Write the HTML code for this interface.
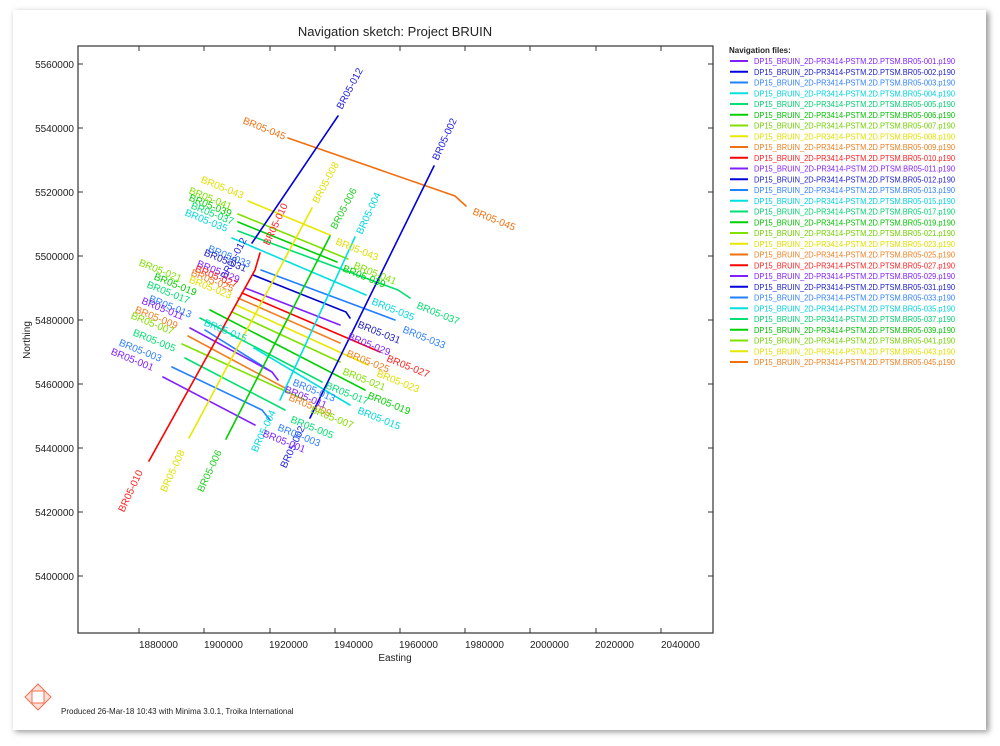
<!DOCTYPE html>
<html><head><meta charset="utf-8"><style>
body{margin:0;background:#fff;width:1000px;height:746px;overflow:hidden}
svg{display:block}
text{font-family:"Liberation Sans",sans-serif}
</style></head><body>
<svg width="1000" height="746" viewBox="0 0 1000 746" xmlns="http://www.w3.org/2000/svg">
<defs><filter id="sh" x="-5%" y="-5%" width="110%" height="110%"><feGaussianBlur stdDeviation="3"/></filter></defs>
<rect x="15" y="12" width="974" height="720" fill="#999" filter="url(#sh)"/>
<rect x="13" y="10" width="973" height="720" fill="#fff"/>
<text x="395" y="36" font-size="13" text-anchor="middle" fill="#222">Navigation sketch: Project BRUIN</text>
<rect x="78" y="46" width="635" height="587" fill="none" stroke="#333" stroke-width="1.2"/>
<g stroke="#333" stroke-width="1">
<path d="M139 46v5M204 46v5M270 46v5M335 46v5M400 46v5M465 46v5M530 46v5M596 46v5M661 46v5"/>
<path d="M139 633v-5M204 633v-5M270 633v-5M335 633v-5M400 633v-5M465 633v-5M530 633v-5M596 633v-5M661 633v-5"/>
<path d="M78 64h5M78 128h5M78 192h5M78 256h5M78 320h5M78 384h5M78 448h5M78 512h5M78 576h5"/>
<path d="M713 64h-5M713 128h-5M713 192h-5M713 256h-5M713 320h-5M713 384h-5M713 448h-5M713 512h-5M713 576h-5"/>
</g>
<g font-size="10" fill="#222" text-anchor="end">
<text x="74" y="68">5560000</text><text x="74" y="132">5540000</text><text x="74" y="196">5520000</text><text x="74" y="260">5500000</text><text x="74" y="324">5480000</text><text x="74" y="388">5460000</text><text x="74" y="452">5440000</text><text x="74" y="516">5420000</text><text x="74" y="580">5400000</text>
</g>
<g font-size="10" fill="#222">
<text x="139" y="648">1880000</text><text x="204" y="648">1900000</text><text x="269" y="648">1920000</text><text x="334" y="648">1940000</text><text x="399" y="648">1960000</text><text x="465" y="648">1980000</text><text x="530" y="648">2000000</text><text x="595" y="648">2020000</text><text x="661" y="648">2040000</text>
</g>
<text x="395" y="661" font-size="10" text-anchor="middle" fill="#222">Easting</text>
<text x="30" y="340" font-size="10" text-anchor="middle" fill="#222" transform="rotate(-90 30 340)">Northing</text>

<g fill="none" stroke-width="1.6" stroke-linecap="round">
<path d="M288 138 L455 196 L466 206" stroke="#f07010"/>
<path d="M248 201 L330 235" stroke="#e8e800"/>
<path d="M238 214 L348 259" stroke="#80e000"/>
<path d="M238 222 L337 262" stroke="#00d000"/>
<path d="M238 231 L398 290 L410 298" stroke="#00e070"/>
<path d="M232 238 L366 295" stroke="#00e0e0"/>
<path d="M261 270 L395 320" stroke="#2080ff"/>
<path d="M253 275 L346 312 L350 318" stroke="#0000cc"/>
<path d="M245 288 L340 325" stroke="#8020ff"/>
<path d="M242 293 L380 352" stroke="#ff0000"/>
<path d="M238 298 L340 343" stroke="#f08020"/>
<path d="M236 305 L368 365" stroke="#e8e800"/>
<path d="M232 312 L340 362" stroke="#80e000"/>
<path d="M210 310 L365 390" stroke="#00d000"/>
<path d="M200 318 L322 382" stroke="#00e070"/>
<path d="M254 348 L350 405" stroke="#00e0e0"/>
<path d="M205 330 L272 372" stroke="#2080ff"/>
<path d="M190 328 L272 372 L278 380" stroke="#8020ff"/>
<path d="M188 336 L285 388" stroke="#f08020"/>
<path d="M182 344 L305 400" stroke="#80e000"/>
<path d="M185 358 L285 410" stroke="#00e070"/>
<path d="M172 367 L262 410 L270 420" stroke="#2080ff"/>
<path d="M163 377 L255 425" stroke="#8020ff"/>
<path d="M252 243 L338 116" stroke="#0000dd"/>
<path d="M310 418 L434 166" stroke="#0000dd"/>
<path d="M149 461 L255 270 L260 253" stroke="#ff0000"/>
<path d="M189 438 L312 208" stroke="#e8e800"/>
<path d="M226 439 L330 236" stroke="#00d000"/>
<path d="M280 400 L355 237" stroke="#00e0e0"/>
</g>

<g font-size="10">
<text x="342" y="110" fill="#2020e0" transform="rotate(-62 342 110)">BR05-012</text>
<text x="438" y="161" fill="#2020e0" transform="rotate(-65 438 161)">BR05-002</text>
<text x="269" y="246" fill="#ff2020" transform="rotate(-65 269 246)">BR05-010</text>
<text x="318" y="204" fill="#e0e000" transform="rotate(-62 318 204)">BR05-008</text>
<text x="336" y="230" fill="#20d020" transform="rotate(-62 336 230)">BR05-006</text>
<text x="362" y="235" fill="#00d8e0" transform="rotate(-65 362 235)">BR05-004</text>
<text x="143" y="472" fill="#ff2020" text-anchor="end" transform="rotate(-65 143 472)">BR05-010</text>
<text x="185" y="452" fill="#e0e000" text-anchor="end" transform="rotate(-65 185 452)">BR05-008</text>
<text x="222" y="452" fill="#20d020" text-anchor="end" transform="rotate(-65 222 452)">BR05-006</text>
<text x="276" y="412" fill="#00d8e0" text-anchor="end" transform="rotate(-65 276 412)">BR05-004</text>
<text x="305" y="428" fill="#2020e0" text-anchor="end" transform="rotate(-65 305 428)">BR05-002</text>
<text x="247" y="240" fill="#2020e0" text-anchor="end" transform="rotate(-62 247 240)">BR05-012</text>
<text x="472" y="214" fill="#f07010" transform="rotate(22 472 214)">BR05-045</text>
<text x="335" y="244" fill="#e0e000" transform="rotate(22 335 244)">BR05-043</text>
<text x="353" y="268" fill="#80e000" transform="rotate(22 353 268)">BR05-041</text>
<text x="342" y="271" fill="#00d000" transform="rotate(22 342 271)">BR05-039</text>
<text x="416" y="308" fill="#00e070" transform="rotate(22 416 308)">BR05-037</text>
<text x="371" y="304" fill="#00d8e0" transform="rotate(22 371 304)">BR05-035</text>
<text x="402" y="332" fill="#3080ff" transform="rotate(22 402 332)">BR05-033</text>
<text x="357" y="327" fill="#2020c0" transform="rotate(22 357 327)">BR05-031</text>
<text x="347" y="339" fill="#8020ff" transform="rotate(22 347 339)">BR05-029</text>
<text x="386" y="361" fill="#ff2020" transform="rotate(22 386 361)">BR05-027</text>
<text x="346" y="356" fill="#f08020" transform="rotate(22 346 356)">BR05-025</text>
<text x="376" y="376" fill="#e0e000" transform="rotate(22 376 376)">BR05-023</text>
<text x="342" y="374" fill="#80e000" transform="rotate(22 342 374)">BR05-021</text>
<text x="367" y="398" fill="#00d000" transform="rotate(22 367 398)">BR05-019</text>
<text x="325" y="388" fill="#00e070" transform="rotate(22 325 388)">BR05-017</text>
<text x="357" y="413" fill="#00d8e0" transform="rotate(22 357 413)">BR05-015</text>
<text x="292" y="385" fill="#3080ff" transform="rotate(22 292 385)">BR05-013</text>
<text x="284" y="392" fill="#8020ff" transform="rotate(22 284 392)">BR05-011</text>
<text x="288" y="400" fill="#f08020" transform="rotate(22 288 400)">BR05-009</text>
<text x="310" y="412" fill="#80e000" transform="rotate(22 310 412)">BR05-007</text>
<text x="290" y="422" fill="#00e070" transform="rotate(22 290 422)">BR05-005</text>
<text x="277" y="430" fill="#3080ff" transform="rotate(22 277 430)">BR05-003</text>
<text x="262" y="436" fill="#8020ff" transform="rotate(22 262 436)">BR05-001</text>
<text x="284" y="140" fill="#f07010" text-anchor="end" transform="rotate(22 284 140)">BR05-045</text>
<text x="242" y="199" fill="#e0e000" text-anchor="end" transform="rotate(22 242 199)">BR05-043</text>
<text x="230" y="210" fill="#80e000" text-anchor="end" transform="rotate(22 230 210)">BR05-041</text>
<text x="230" y="217" fill="#00d000" text-anchor="end" transform="rotate(22 230 217)">BR05-039</text>
<text x="232" y="225" fill="#00e070" text-anchor="end" transform="rotate(22 232 225)">BR05-037</text>
<text x="226" y="232" fill="#00d8e0" text-anchor="end" transform="rotate(22 226 232)">BR05-035</text>
<text x="249" y="268" fill="#3080ff" text-anchor="end" transform="rotate(22 249 268)">BR05-033</text>
<text x="245" y="272" fill="#2020c0" text-anchor="end" transform="rotate(22 245 272)">BR05-031</text>
<text x="238" y="283" fill="#8020ff" text-anchor="end" transform="rotate(22 238 283)">BR05-029</text>
<text x="236" y="288" fill="#ff2020" text-anchor="end" transform="rotate(22 236 288)">BR05-027</text>
<text x="232" y="292" fill="#f08020" text-anchor="end" transform="rotate(22 232 292)">BR05-025</text>
<text x="230" y="299" fill="#e0e000" text-anchor="end" transform="rotate(22 230 299)">BR05-023</text>
<text x="180" y="282" fill="#80e000" text-anchor="end" transform="rotate(22 180 282)">BR05-021</text>
<text x="195" y="296" fill="#00d000" text-anchor="end" transform="rotate(22 195 296)">BR05-019</text>
<text x="188" y="304" fill="#00e070" text-anchor="end" transform="rotate(22 188 304)">BR05-017</text>
<text x="245" y="342" fill="#00d8e0" text-anchor="end" transform="rotate(22 245 342)">BR05-015</text>
<text x="190" y="318" fill="#3080ff" text-anchor="end" transform="rotate(22 190 318)">BR05-013</text>
<text x="182" y="320" fill="#8020ff" text-anchor="end" transform="rotate(22 182 320)">BR05-011</text>
<text x="176" y="329" fill="#f08020" text-anchor="end" transform="rotate(22 176 329)">BR05-009</text>
<text x="172" y="335" fill="#80e000" text-anchor="end" transform="rotate(22 172 335)">BR05-007</text>
<text x="174" y="352" fill="#00e070" text-anchor="end" transform="rotate(22 174 352)">BR05-005</text>
<text x="160" y="362" fill="#3080ff" text-anchor="end" transform="rotate(22 160 362)">BR05-003</text>
<text x="152" y="371" fill="#8020ff" text-anchor="end" transform="rotate(22 152 371)">BR05-001</text>
</g>

<text x="729" y="53" font-size="8" font-weight="bold" fill="#222">Navigation files:</text>
<g font-size="8" stroke-width="2">
<g stroke="#8020ff" fill="#8020ff"><line x1="730" y1="61" x2="748" y2="61"/><text x="754" y="64" stroke="none" textLength="201" lengthAdjust="spacingAndGlyphs">DP15_BRUIN_2D-PR3414-PSTM.2D.PTSM.BR05-001.p190</text></g>
<g stroke="#0000dd" fill="#2020d0"><line x1="730" y1="71.75" x2="748" y2="71.75"/><text x="754" y="74.75" stroke="none" textLength="201" lengthAdjust="spacingAndGlyphs">DP15_BRUIN_2D-PR3414-PSTM.2D.PTSM.BR05-002.p190</text></g>
<g stroke="#2080ff" fill="#3080ff"><line x1="730" y1="82.5" x2="748" y2="82.5"/><text x="754" y="85.5" stroke="none" textLength="201" lengthAdjust="spacingAndGlyphs">DP15_BRUIN_2D-PR3414-PSTM.2D.PTSM.BR05-003.p190</text></g>
<g stroke="#00e0e0" fill="#00d0e0"><line x1="730" y1="93.25" x2="748" y2="93.25"/><text x="754" y="96.25" stroke="none" textLength="201" lengthAdjust="spacingAndGlyphs">DP15_BRUIN_2D-PR3414-PSTM.2D.PTSM.BR05-004.p190</text></g>
<g stroke="#00e070" fill="#00d070"><line x1="730" y1="104" x2="748" y2="104"/><text x="754" y="107" stroke="none" textLength="201" lengthAdjust="spacingAndGlyphs">DP15_BRUIN_2D-PR3414-PSTM.2D.PTSM.BR05-005.p190</text></g>
<g stroke="#00d000" fill="#00c000"><line x1="730" y1="114.75" x2="748" y2="114.75"/><text x="754" y="117.75" stroke="none" textLength="201" lengthAdjust="spacingAndGlyphs">DP15_BRUIN_2D-PR3414-PSTM.2D.PTSM.BR05-006.p190</text></g>
<g stroke="#80e000" fill="#70d000"><line x1="730" y1="125.5" x2="748" y2="125.5"/><text x="754" y="128.5" stroke="none" textLength="201" lengthAdjust="spacingAndGlyphs">DP15_BRUIN_2D-PR3414-PSTM.2D.PTSM.BR05-007.p190</text></g>
<g stroke="#e8e800" fill="#e0e000"><line x1="730" y1="136.25" x2="748" y2="136.25"/><text x="754" y="139.25" stroke="none" textLength="201" lengthAdjust="spacingAndGlyphs">DP15_BRUIN_2D-PR3414-PSTM.2D.PTSM.BR05-008.p190</text></g>
<g stroke="#f07010" fill="#f08020"><line x1="730" y1="147" x2="748" y2="147"/><text x="754" y="150" stroke="none" textLength="201" lengthAdjust="spacingAndGlyphs">DP15_BRUIN_2D-PR3414-PSTM.2D.PTSM.BR05-009.p190</text></g>
<g stroke="#ff0000" fill="#ff2020"><line x1="730" y1="157.75" x2="748" y2="157.75"/><text x="754" y="160.75" stroke="none" textLength="201" lengthAdjust="spacingAndGlyphs">DP15_BRUIN_2D-PR3414-PSTM.2D.PTSM.BR05-010.p190</text></g>
<g stroke="#8020ff" fill="#8020ff"><line x1="730" y1="168.5" x2="748" y2="168.5"/><text x="754" y="171.5" stroke="none" textLength="201" lengthAdjust="spacingAndGlyphs">DP15_BRUIN_2D-PR3414-PSTM.2D.PTSM.BR05-011.p190</text></g>
<g stroke="#0000dd" fill="#2020d0"><line x1="730" y1="179.25" x2="748" y2="179.25"/><text x="754" y="182.25" stroke="none" textLength="201" lengthAdjust="spacingAndGlyphs">DP15_BRUIN_2D-PR3414-PSTM.2D.PTSM.BR05-012.p190</text></g>
<g stroke="#2080ff" fill="#3080ff"><line x1="730" y1="190" x2="748" y2="190"/><text x="754" y="193" stroke="none" textLength="201" lengthAdjust="spacingAndGlyphs">DP15_BRUIN_2D-PR3414-PSTM.2D.PTSM.BR05-013.p190</text></g>
<g stroke="#00e0e0" fill="#00d0e0"><line x1="730" y1="200.75" x2="748" y2="200.75"/><text x="754" y="203.75" stroke="none" textLength="201" lengthAdjust="spacingAndGlyphs">DP15_BRUIN_2D-PR3414-PSTM.2D.PTSM.BR05-015.p190</text></g>
<g stroke="#00e070" fill="#00d070"><line x1="730" y1="211.5" x2="748" y2="211.5"/><text x="754" y="214.5" stroke="none" textLength="201" lengthAdjust="spacingAndGlyphs">DP15_BRUIN_2D-PR3414-PSTM.2D.PTSM.BR05-017.p190</text></g>
<g stroke="#00d000" fill="#00c000"><line x1="730" y1="222.25" x2="748" y2="222.25"/><text x="754" y="225.25" stroke="none" textLength="201" lengthAdjust="spacingAndGlyphs">DP15_BRUIN_2D-PR3414-PSTM.2D.PTSM.BR05-019.p190</text></g>
<g stroke="#80e000" fill="#70d000"><line x1="730" y1="233" x2="748" y2="233"/><text x="754" y="236" stroke="none" textLength="201" lengthAdjust="spacingAndGlyphs">DP15_BRUIN_2D-PR3414-PSTM.2D.PTSM.BR05-021.p190</text></g>
<g stroke="#e8e800" fill="#e0e000"><line x1="730" y1="243.75" x2="748" y2="243.75"/><text x="754" y="246.75" stroke="none" textLength="201" lengthAdjust="spacingAndGlyphs">DP15_BRUIN_2D-PR3414-PSTM.2D.PTSM.BR05-023.p190</text></g>
<g stroke="#f07010" fill="#f08020"><line x1="730" y1="254.5" x2="748" y2="254.5"/><text x="754" y="257.5" stroke="none" textLength="201" lengthAdjust="spacingAndGlyphs">DP15_BRUIN_2D-PR3414-PSTM.2D.PTSM.BR05-025.p190</text></g>
<g stroke="#ff0000" fill="#ff2020"><line x1="730" y1="265.25" x2="748" y2="265.25"/><text x="754" y="268.25" stroke="none" textLength="201" lengthAdjust="spacingAndGlyphs">DP15_BRUIN_2D-PR3414-PSTM.2D.PTSM.BR05-027.p190</text></g>
<g stroke="#8020ff" fill="#8020ff"><line x1="730" y1="276" x2="748" y2="276"/><text x="754" y="279" stroke="none" textLength="201" lengthAdjust="spacingAndGlyphs">DP15_BRUIN_2D-PR3414-PSTM.2D.PTSM.BR05-029.p190</text></g>
<g stroke="#0000dd" fill="#2020d0"><line x1="730" y1="286.75" x2="748" y2="286.75"/><text x="754" y="289.75" stroke="none" textLength="201" lengthAdjust="spacingAndGlyphs">DP15_BRUIN_2D-PR3414-PSTM.2D.PTSM.BR05-031.p190</text></g>
<g stroke="#2080ff" fill="#3080ff"><line x1="730" y1="297.5" x2="748" y2="297.5"/><text x="754" y="300.5" stroke="none" textLength="201" lengthAdjust="spacingAndGlyphs">DP15_BRUIN_2D-PR3414-PSTM.2D.PTSM.BR05-033.p190</text></g>
<g stroke="#00e0e0" fill="#00d0e0"><line x1="730" y1="308.25" x2="748" y2="308.25"/><text x="754" y="311.25" stroke="none" textLength="201" lengthAdjust="spacingAndGlyphs">DP15_BRUIN_2D-PR3414-PSTM.2D.PTSM.BR05-035.p190</text></g>
<g stroke="#00e070" fill="#00d070"><line x1="730" y1="319" x2="748" y2="319"/><text x="754" y="322" stroke="none" textLength="201" lengthAdjust="spacingAndGlyphs">DP15_BRUIN_2D-PR3414-PSTM.2D.PTSM.BR05-037.p190</text></g>
<g stroke="#00d000" fill="#00c000"><line x1="730" y1="329.75" x2="748" y2="329.75"/><text x="754" y="332.75" stroke="none" textLength="201" lengthAdjust="spacingAndGlyphs">DP15_BRUIN_2D-PR3414-PSTM.2D.PTSM.BR05-039.p190</text></g>
<g stroke="#80e000" fill="#70d000"><line x1="730" y1="340.5" x2="748" y2="340.5"/><text x="754" y="343.5" stroke="none" textLength="201" lengthAdjust="spacingAndGlyphs">DP15_BRUIN_2D-PR3414-PSTM.2D.PTSM.BR05-041.p190</text></g>
<g stroke="#e8e800" fill="#e0e000"><line x1="730" y1="351.25" x2="748" y2="351.25"/><text x="754" y="354.25" stroke="none" textLength="201" lengthAdjust="spacingAndGlyphs">DP15_BRUIN_2D-PR3414-PSTM.2D.PTSM.BR05-043.p190</text></g>
<g stroke="#f07010" fill="#f08020"><line x1="730" y1="362" x2="748" y2="362"/><text x="754" y="365" stroke="none" textLength="201" lengthAdjust="spacingAndGlyphs">DP15_BRUIN_2D-PR3414-PSTM.2D.PTSM.BR05-045.p190</text></g>
</g>

<g fill="none" stroke="#f07050" stroke-width="1">
<path d="M38 684 L51 697 L38 710 L25 697 Z" fill="#fde0d8"/>
<rect x="32" y="691" width="12" height="12" fill="#fff"/>
</g>
<text x="61" y="714" font-size="8" fill="#222">Produced 26-Mar-18 10:43 with Minima 3.0.1, Troika International</text>
</svg>
</body></html>
